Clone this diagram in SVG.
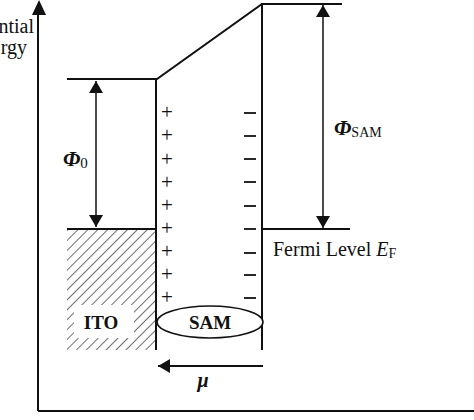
<svg xmlns="http://www.w3.org/2000/svg" width="474" height="420" viewBox="0 0 474 420">
<style>
.ln{stroke:#111;stroke-width:2;fill:none}
.thin{stroke:#111;stroke-width:1.5;fill:none}
.t{font-family:"Liberation Serif",serif;fill:#111;font-size:20px}
.pm{font-family:"Liberation Serif",serif;fill:#111;font-size:21px;text-anchor:middle}
</style>
<defs>
<pattern id="hatch" patternUnits="userSpaceOnUse" width="7" height="7" patternTransform="rotate(45)">
<line x1="0" y1="0" x2="0" y2="7" stroke="#222" stroke-width="1.3"/>
</pattern>
<marker id="ah" viewBox="0 0 12 14" refX="12" refY="7" markerWidth="12" markerHeight="14" markerUnits="userSpaceOnUse" orient="auto-start-reverse">
<path d="M0,0 L12,7 L0,14 Z" fill="#111"/>
</marker>
</defs>
<rect width="474" height="420" fill="#fff"/>

<g id="axes">
<line class="ln" x1="38" y1="411" x2="474" y2="411"/>
<line class="ln" x1="38" y1="411" x2="38" y2="12"/>
<path d="M32,15 L39,0 L46,15 Z" fill="#111"/>
<text class="t" x="34" y="33" text-anchor="end" font-size="17">ntial</text>
<text class="t" x="27" y="54" text-anchor="end" font-size="17">rgy</text>
</g>

<g id="ito">
<rect x="67" y="229" width="89" height="121" fill="url(#hatch)"/>
<rect x="74" y="305" width="60" height="33" fill="#fff"/>
<text x="101" y="329" text-anchor="middle" style="font-family:'Liberation Serif',serif;font-weight:bold;font-size:19px" fill="#111">ITO</text>
<line class="ln" x1="67" y1="229" x2="157" y2="229"/>
</g>

<g id="band">
<polyline class="ln" points="67,79 157,79 262,4 342,4"/>
<line class="ln" x1="156" y1="78" x2="156" y2="350"/>
<line class="ln" x1="262" y1="3" x2="262" y2="350"/>
<line class="ln" x1="262" y1="229" x2="350" y2="229"/>
</g>

<g id="charges">
<text class="pm" x="167" y="119">+</text>
<text class="pm" x="167" y="142">+</text>
<text class="pm" x="167" y="166">+</text>
<text class="pm" x="167" y="189">+</text>
<text class="pm" x="167" y="212">+</text>
<text class="pm" x="167" y="235">+</text>
<text class="pm" x="167" y="258">+</text>
<text class="pm" x="167" y="281">+</text>
<text class="pm" x="167" y="304">+</text>
<g stroke="#111" stroke-width="1.8">
<line x1="244" y1="113" x2="256" y2="113"/>
<line x1="244" y1="136" x2="256" y2="136"/>
<line x1="244" y1="159" x2="256" y2="159"/>
<line x1="244" y1="182" x2="256" y2="182"/>
<line x1="244" y1="206" x2="256" y2="206"/>
<line x1="244" y1="229" x2="256" y2="229"/>
<line x1="244" y1="253" x2="256" y2="253"/>
<line x1="244" y1="275" x2="256" y2="275"/>
<line x1="244" y1="298" x2="256" y2="298"/>
</g>
</g>

<g id="sam">
<ellipse cx="210" cy="322" rx="53" ry="16" fill="#fff" stroke="#111" stroke-width="1.6"/>
<text x="210" y="329" text-anchor="middle" style="font-family:'Liberation Serif',serif;font-weight:bold;font-size:19px" fill="#111">SAM</text>
</g>

<g id="connectors">
<line class="thin" x1="96" y1="81" x2="96" y2="227" marker-start="url(#ah)" marker-end="url(#ah)"/>
<line class="thin" x1="323" y1="5" x2="323" y2="228" marker-start="url(#ah)" marker-end="url(#ah)"/>
<line class="ln" x1="263" y1="366" x2="158" y2="366" marker-end="url(#ah)"/>
</g>

<g id="labels">
<text class="t" x="63" y="166" style="font-style:italic;font-weight:bold;font-size:22px">Φ<tspan style="font-style:normal;font-weight:normal;font-size:15px" dy="2">0</tspan></text>
<text class="t" x="334" y="135" style="font-style:italic;font-weight:bold;font-size:22px">Φ<tspan style="font-style:normal;font-weight:normal;font-size:14px" dy="2">SAM</tspan></text>
<text class="t" x="273" y="256">Fermi Level <tspan font-style="italic">E</tspan><tspan font-size="14" dy="2">F</tspan></text>
<text x="203" y="387" text-anchor="middle" style="font-family:'Liberation Serif',serif;font-style:italic;font-weight:bold;font-size:20px" fill="#111">μ</text>
</g>
</svg>
